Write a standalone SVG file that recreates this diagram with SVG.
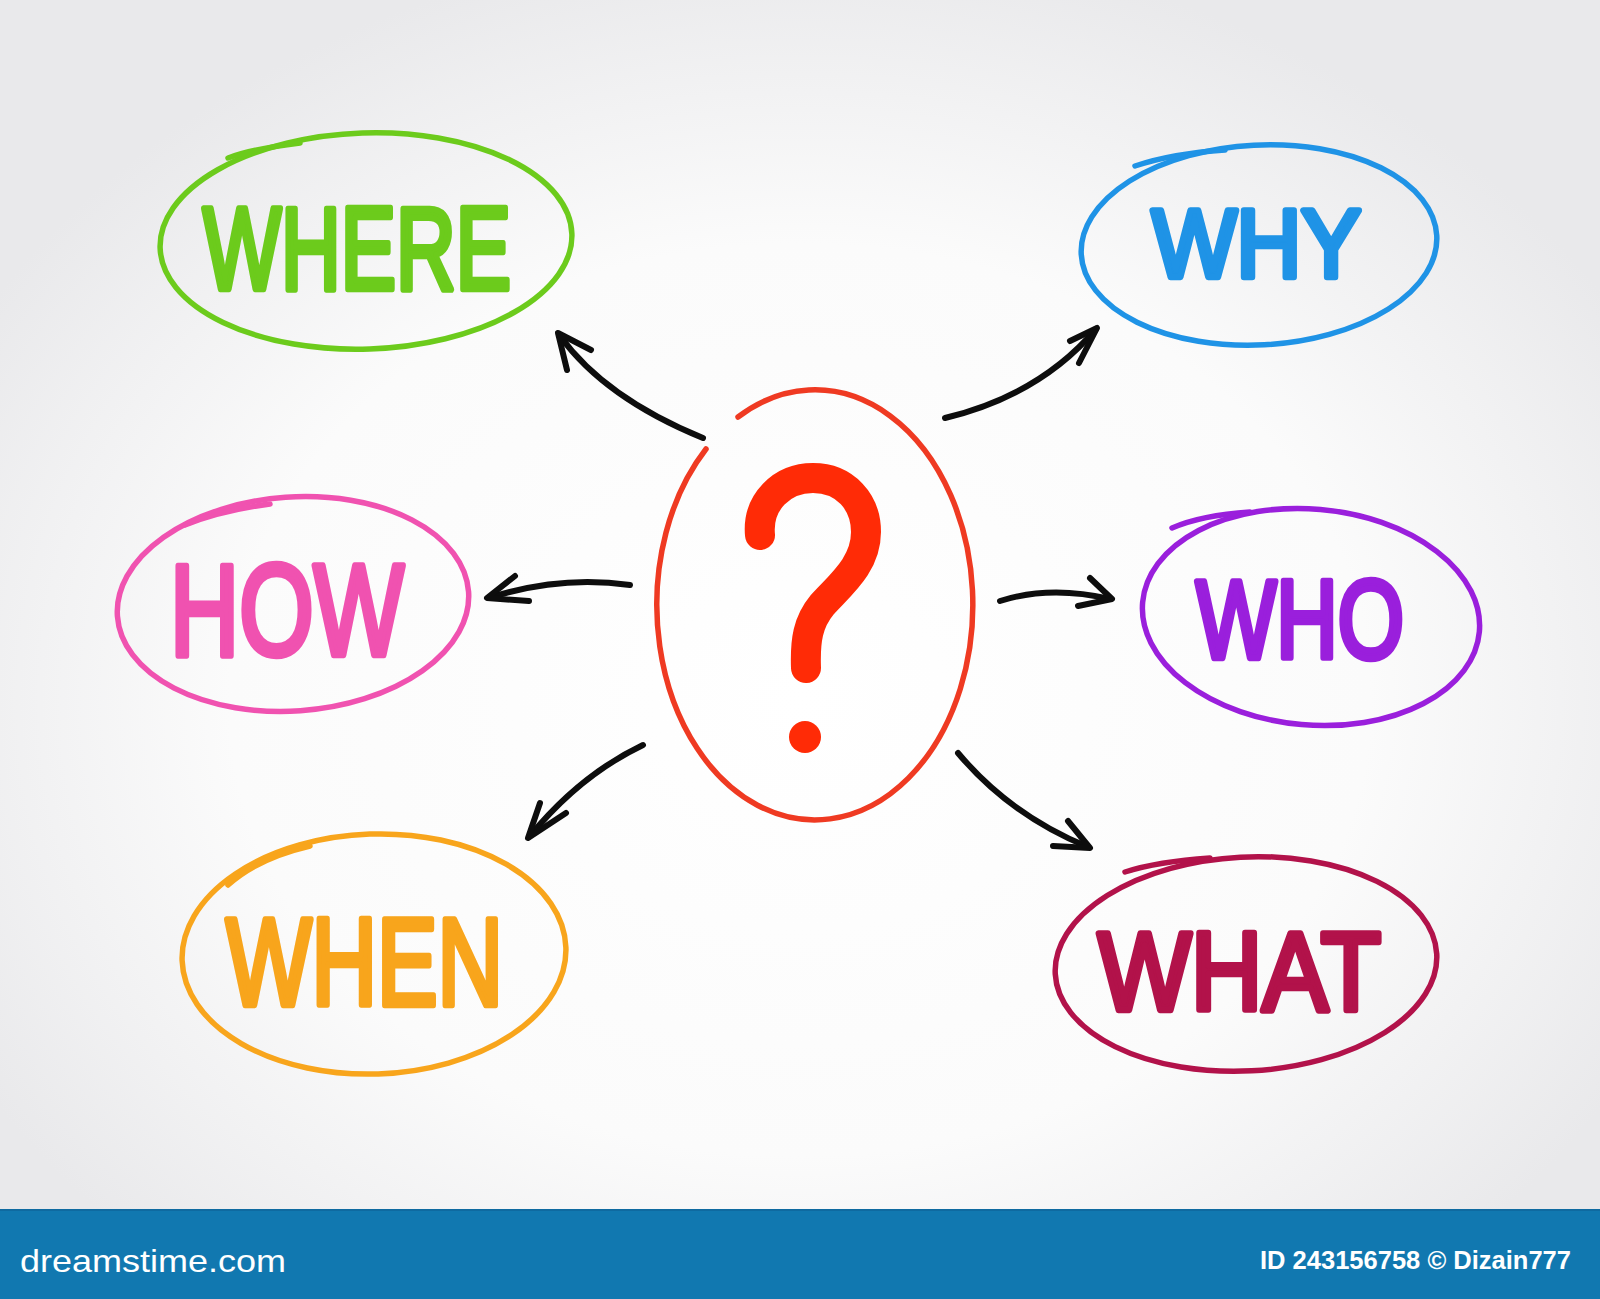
<svg xmlns="http://www.w3.org/2000/svg" width="1600" height="1299" viewBox="0 0 1600 1299">
<defs>
<radialGradient id="bg" cx="800" cy="700" r="950" gradientUnits="userSpaceOnUse" gradientTransform="translate(800 700) scale(1 0.8) translate(-800 -700)">
<stop offset="0" stop-color="#ffffff"/>
<stop offset="0.6" stop-color="#fbfbfb"/>
<stop offset="1" stop-color="#e9e9eb"/>
</radialGradient>
<style>
.ring{fill:none;stroke-width:5.5;stroke-linecap:round;stroke-linejoin:round}
.word{font-family:"Liberation Sans",Arial,sans-serif;font-weight:normal;stroke-width:6.5;stroke-linejoin:round;stroke-linecap:round;text-anchor:start}
.conn{fill:none;stroke:#0d0d0d;stroke-width:6;stroke-linecap:round;stroke-linejoin:round}
.bar{font-family:"Liberation Sans",Arial,sans-serif;fill:#ffffff}
</style>
</defs>
<rect x="0" y="0" width="1600" height="1299" fill="url(#bg)"/>

<g id="center">
<path class="ring" stroke="#ef3a22" d="M738,417 A158 215 0 1 1 706,449"/>
<path d="M760,535 C757,502 782,478 813,478 C845,478 866,502 866,532 C866,565 840,585 822,605 C808,622 805,640 806,668" fill="none" stroke="#ff2b06" stroke-width="30" stroke-linecap="round" stroke-linejoin="round"/>
<circle cx="805" cy="737" r="16" fill="#ff2b06"/>
</g>

<g id="where">
<ellipse class="ring" stroke="#6ccb1c" cx="366" cy="241" rx="206" ry="108" transform="rotate(-2 366 241)"/>
<path class="ring" stroke="#6ccb1c" d="M228,158 C250,150 275,146 300,143"/>
<text class="word" x="203" y="289" font-size="116" fill="#6ccb1c" stroke="#6ccb1c" textLength="308" lengthAdjust="spacingAndGlyphs">WHERE</text>
</g>

<g id="why">
<ellipse class="ring" stroke="#1f93e6" cx="1259" cy="245" rx="178" ry="100" transform="rotate(-3 1259 245)"/>
<path class="ring" stroke="#1f93e6" d="M1135,166 C1165,156 1195,152 1225,150"/>
<text class="word" x="1152" y="277" font-size="96" fill="#1f93e6" stroke="#1f93e6" textLength="209" lengthAdjust="spacingAndGlyphs">WHY</text>
</g>

<g id="how">
<ellipse class="ring" stroke="#f052b0" cx="293" cy="604" rx="176" ry="107" transform="rotate(-4 293 604)"/>
<path class="ring" stroke="#f052b0" d="M185,525 C210,515 240,508 270,504"/>
<text class="word" x="170" y="655" font-size="130" fill="#f052b0" stroke="#f052b0" textLength="234" lengthAdjust="spacingAndGlyphs">HOW</text>
</g>

<g id="who">
<ellipse class="ring" stroke="#9a1fdc" cx="1311" cy="617" rx="169" ry="108" transform="rotate(5 1311 617)"/>
<path class="ring" stroke="#9a1fdc" d="M1172,528 C1195,518 1220,514 1250,512"/>
<text class="word" x="1196" y="658" font-size="112" fill="#9a1fdc" stroke="#9a1fdc" textLength="208" lengthAdjust="spacingAndGlyphs">WHO</text>
</g>

<g id="when">
<ellipse class="ring" stroke="#f8a51c" cx="374" cy="954" rx="192" ry="120" transform="rotate(-2 374 954)"/>
<path class="ring" stroke="#f8a51c" d="M228,885 C250,865 280,853 310,846"/>
<text class="word" x="226" y="1005" font-size="124" fill="#f8a51c" stroke="#f8a51c" textLength="277" lengthAdjust="spacingAndGlyphs">WHEN</text>
</g>

<g id="what">
<ellipse class="ring" stroke="#b2124a" cx="1246" cy="964" rx="191" ry="107" transform="rotate(-3 1246 964)"/>
<path class="ring" stroke="#b2124a" d="M1125,872 C1150,864 1180,860 1210,858"/>
<text class="word" x="1098" y="1010" font-size="112" fill="#b2124a" stroke="#b2124a" textLength="283" lengthAdjust="spacingAndGlyphs">WHAT</text>
</g>

<g id="connectors">
<path class="conn" d="M703,438 Q605,398 560,336"/>
<path class="conn" d="M567,370 L558,333 L591,350"/>
<path class="conn" d="M945,418 Q1040,395 1096,329"/>
<path class="conn" d="M1070,341 L1097,328 L1079,363"/>
<path class="conn" d="M630,585 Q560,575 489,598"/>
<path class="conn" d="M515,576 L487,598 L529,601"/>
<path class="conn" d="M1000,601 Q1050,585 1110,599"/>
<path class="conn" d="M1090,578 L1112,599 L1078,606"/>
<path class="conn" d="M643,745 Q580,775 530,836"/>
<path class="conn" d="M540,803 L528,838 L566,813"/>
<path class="conn" d="M958,753 Q1010,815 1088,847"/>
<path class="conn" d="M1068,821 L1090,848 L1053,846"/>
</g>

<g id="footer">
<rect x="0" y="1209" width="1600" height="90" fill="#1178b0"/>
<rect x="0" y="1209" width="1600" height="2" fill="#0f6aa0"/>
<text class="bar" x="20" y="1272" font-size="32" textLength="266" lengthAdjust="spacingAndGlyphs">dreamstime.com</text>
<text class="bar" x="1260" y="1269" font-size="26" font-weight="bold" textLength="311" lengthAdjust="spacingAndGlyphs">ID 243156758 © Dizain777</text>
</g>
</svg>
